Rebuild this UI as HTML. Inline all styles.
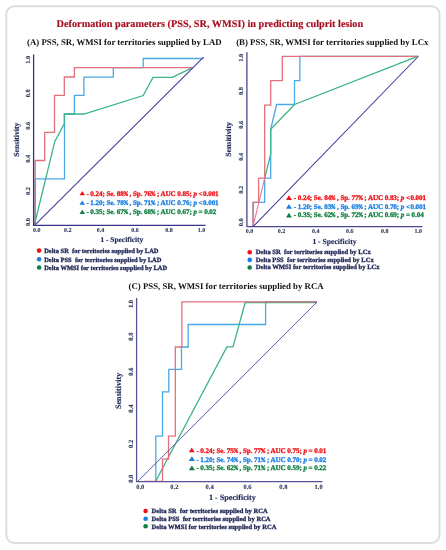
<!DOCTYPE html>
<html><head><meta charset="utf-8"><style>
html,body{margin:0;padding:0;background:#fff;width:446px;height:550px;overflow:hidden}
svg{display:block;will-change:transform}
text{font-family:"Liberation Serif",serif;font-weight:bold;white-space:pre;text-rendering:geometricPrecision}
.tk{font-size:6px;fill:#2e3a5a;stroke:#2e3a5a;stroke-width:0.12px}
.ax{font-size:7.5px;fill:#1f2858;stroke:#1f2858;stroke-width:0.15px}
.lg{font-size:6.56px;fill:#1c2452;stroke:#1c2452;stroke-width:0.3px}
.an{font-size:7.1px;stroke-width:0.3px;letter-spacing:-0.08px}
.pc{font-family:"Liberation Mono",monospace}
.r{fill:#f00f14;stroke:#f00f14}.b{fill:#1a7ee0;stroke:#1a7ee0}.g{fill:#0f7f40;stroke:#0f7f40}
circle,path{stroke-width:0}
.cr{fill:none;stroke:#e2707a;stroke-width:1.3}
.cb{fill:none;stroke:#4aa8e6;stroke-width:1.3}
.cg{fill:none;stroke:#3cb487;stroke-width:1.3}
.dg{fill:none;stroke:#44379a;stroke-width:1.05}
.axl{fill:none;stroke:#3a3088;stroke-width:1.3}
</style></head><body>
<svg width="446" height="550" viewBox="0 0 446 550">
<rect x="6.3" y="6.3" width="433.2" height="536.65" rx="8" ry="8" fill="none" stroke="#dcdcdc" stroke-width="2"/>
<text x="56.6" y="27.4" style="font-size:10.25px;fill:#a50c1e;stroke:#a50c1e;stroke-width:0.15px">Deformation parameters (PSS, SR, WMSI) in predicting culprit lesion</text>

<!-- Panel A -->
<text x="27" y="44.9" style="font-size:8.8px;fill:#111">(A) PSS, SR, WMSI for territories supplied by LAD</text>
<polyline class="cb" points="35.2,225 35.2,178.9 64.5,178.9 64.5,114 74.4,114 74.4,95.4 83.9,95.4 83.9,77.1 113.3,77.1 113.3,67.6 143.2,67.6 143.2,58.5 203.4,58.5"/>
<polyline class="cg" points="34.5,224.5 54.8,141.4 64.3,123.8 64.3,114 84,114 143.2,95.5 153,77.4 172.3,77.4 192.5,67.7"/>
<polyline class="cr" points="35.2,225 35.2,160.5 44.7,160.5 44.7,132.4 54.5,132.4 54.5,95.4 64.3,95.4 64.3,77 74.4,77 74.4,67.7 192.5,67.7"/>
<polyline class="dg" points="35.3,224.7 203.6,57.1"/>
<polyline class="axl" points="33.6,54.4 33.6,225.3 205.5,225.3"/>
<g class="tk" text-anchor="middle">
<text transform="translate(29.6,59.9) rotate(-90)" style="font-size:6.3px">1.0</text>
<text transform="translate(29.6,93.4) rotate(-90)" style="font-size:6.3px">0.8</text>
<text transform="translate(29.6,125.7) rotate(-90)" style="font-size:6.3px">0.6</text>
<text transform="translate(29.6,158.9) rotate(-90)" style="font-size:6.3px">0.4</text>
<text transform="translate(29.6,191.0) rotate(-90)" style="font-size:6.3px">0.2</text>
<text transform="translate(29.6,222.1) rotate(-90)" style="font-size:6.3px">0.0</text>
<text x="36.8" y="232.2">0.0</text><text x="67.8" y="232.2">0.2</text><text x="100.5" y="232.2">0.4</text>
<text x="135.1" y="232.2">0.6</text><text x="169" y="232.2">0.8</text><text x="201.6" y="232.2">1.0</text>
</g>
<text class="ax" x="100.5" y="242.1" style="font-size:7.4px">1 - Specificity</text>
<text class="ax" text-anchor="middle" transform="translate(18.9,139.7) rotate(-90)" style="font-size:7.7px">Sensitivity</text>
<path class="r" d="M79.5,195.3 L82.25,190.9 L85,195.3 Z"/>
<path class="b" d="M79.5,204.8 L82.25,200.5 L85,204.8 Z"/>
<path class="g" d="M79.5,214.1 L82.25,209.7 L85,214.1 Z"/>
<text class="an r" x="86.4" y="195.5">- 0.24; Se. 88<tspan class="pc">%</tspan> , Sp. 76<tspan class="pc">%</tspan> ; AUC 0.85; <tspan font-style="italic">p</tspan> &lt;<tspan dx="0.5">0.001</tspan></text>
<text class="an b" x="86.4" y="205">- 1.20; Se. 78<tspan class="pc">%</tspan> , Sp. 71<tspan class="pc">%</tspan> ; AUC 0.76; <tspan font-style="italic">p</tspan> &lt;<tspan dx="0.5">0.001</tspan></text>
<text class="an g" x="86.4" y="214.1">- 0.35; Se. 67<tspan class="pc">%</tspan> , Sp. 68<tspan class="pc">%</tspan> ; AUC 0.67; <tspan font-style="italic">p</tspan> = 0.02</text>
<circle class="r" cx="39.1" cy="250.6" r="2.3"/><circle class="b" cx="39.1" cy="259.3" r="2.3"/><circle class="g" cx="39.1" cy="267.5" r="2.3"/>
<text class="lg" x="44.2" y="252.7" style="font-size:6.47px">Delta SR  for territories supplied by LAD</text>
<text class="lg" x="44.2" y="261.5" style="font-size:6.47px">Delta PSS  for territories supplied by LAD</text>
<text class="lg" x="44.2" y="269.9" style="font-size:6.47px">Delta WMSI for territories supplied by LAD</text>

<!-- Panel B -->
<text x="236.2" y="44.9" style="font-size:8.8px;fill:#111">(B) PSS, SR, WMSI for territories supplied by LCx</text>
<polyline class="cb" points="253.1,226.2 253.1,202.3 264.7,202.3 264.7,178.1 270.7,178.1 270.7,129.3 276.6,104.5 294.5,104.5 294.5,80.7 299.9,80.7 299.9,56.4 418.2,56.4"/>
<polyline class="cg" points="264.7,178.1 270.7,153.8 270.7,129.3 294.5,104.5 418.2,56.1"/>
<polyline class="cr" points="253.1,226.2 253.1,202.3 258.6,202.3 258.6,178.1 264.7,178.1 264.7,105.1 270.7,105.1 270.7,80.7 282.3,80.7 282.3,56.4 418.2,56.4"/>
<polyline fill="none" stroke="#e87898" stroke-width="1.1" points="253.1,226.2 264.7,178.1"/>
<polyline class="dg" points="253.3,226.4 418.2,56.5"/>
<polyline class="axl" style="stroke:#4e4692" points="246.9,52.3 246.9,226.7 422.5,226.7"/>
<g class="tk" text-anchor="middle">
<text transform="translate(243.2,57.8) rotate(-90)" style="font-size:6.3px">1.0</text>
<text transform="translate(243.2,91.1) rotate(-90)" style="font-size:6.3px">0.8</text>
<text transform="translate(243.2,124.7) rotate(-90)" style="font-size:6.3px">0.6</text>
<text transform="translate(243.2,156.9) rotate(-90)" style="font-size:6.3px">0.4</text>
<text transform="translate(243.2,189.7) rotate(-90)" style="font-size:6.3px">0.2</text>
<text transform="translate(243.2,222.3) rotate(-90)" style="font-size:6.3px">0.0</text>
<text x="249.6" y="233.3">0.0</text><text x="281.6" y="233.3">0.2</text><text x="315.7" y="233.3">0.4</text>
<text x="349.7" y="233.3">0.6</text><text x="384.7" y="233.3">0.8</text><text x="418.3" y="233.3">1.0</text>
</g>
<text class="ax" x="312.4" y="243.8" style="font-size:7.65px">1 - Specificity</text>
<text class="ax" text-anchor="middle" transform="translate(231.2,139.4) rotate(-90)" style="font-size:7.85px">Sensitivity</text>
<path class="r" d="M286,199.9 L288.95,195.2 L291.9,199.9 Z"/>
<path class="b" d="M286,208.8 L288.95,204 L291.9,208.8 Z"/>
<path class="g" d="M286,217.6 L288.95,212.8 L291.9,217.6 Z"/>
<text class="an r" x="293.8" y="199.8">- 0.24; Se. 84<tspan class="pc">%</tspan> , Sp. 77<tspan class="pc">%</tspan> ; AUC 0.83; <tspan font-style="italic">p</tspan> &lt;<tspan dx="0.5">0.001</tspan></text>
<text class="an b" x="293.8" y="208.7">- 1.20; Se. 83<tspan class="pc">%</tspan> , Sp. 69<tspan class="pc">%</tspan> ; AUC 0.78; <tspan font-style="italic">p</tspan> &lt;<tspan dx="0.5">0.001</tspan></text>
<text class="an g" x="293.8" y="217.3">- 0.35; Se. 62<tspan class="pc">%</tspan> , Sp. 72<tspan class="pc">%</tspan> ; AUC 0.69; <tspan font-style="italic">p</tspan> = 0.04</text>
<circle class="r" cx="249.7" cy="252.3" r="2.3"/><circle class="b" cx="249.7" cy="259.9" r="2.3"/><circle class="g" cx="249.7" cy="267.5" r="2.3"/>
<text class="lg" x="255.7" y="254.1" style="font-size:6.6px">Delta SR  for territories supplied by LCx</text>
<text class="lg" x="255.7" y="261.8" style="font-size:6.6px">Delta PSS  for territories supplied by LCx</text>
<text class="lg" x="255.7" y="269.2" style="font-size:6.6px">Delta WMSI for territories supplied by LCx</text>

<!-- Panel C -->
<text x="128.5" y="289.2" style="font-size:8.8px;fill:#111">(C) PSS, SR, WMSI for territories supplied by RCA</text>
<polyline class="cb" points="155.8,481 155.8,436.2 162.5,436.2 162.5,391.9 168.8,391.9 168.8,369.4 181.5,369.4 181.5,347 188.2,347 188.2,324.5 265.6,324.5 265.6,302 317,302"/>
<polyline class="cg" points="155.8,481 226.9,346.9 233,346.9 245.2,302.5 317,302.5"/>
<polyline class="cr" points="144,481.3 162.5,481.3 162.5,459.2 168.5,459.2 168.5,436.2 175.3,436.2 175.3,347 181.9,347 181.9,301.9 317,301.9"/>
<polyline class="dg" style="stroke:#6258ae;stroke-width:1" points="137.2,482 317,302"/>
<polyline class="axl" style="stroke:#5a5298" points="136.6,298.1 136.6,481.7 322.4,481.7"/>
<g class="tk" text-anchor="middle" style="font-size:6.5px">
<text transform="translate(132.9,304) rotate(-90)">1.0</text>
<text transform="translate(132.9,336.6) rotate(-90)">0.8</text>
<text transform="translate(132.9,371.6) rotate(-90)">0.6</text>
<text transform="translate(132.9,408.6) rotate(-90)">0.4</text>
<text transform="translate(132.9,443.9) rotate(-90)">0.2</text>
<text transform="translate(132.9,478.7) rotate(-90)">0.0</text>
<text x="140.3" y="488.5">0.0</text><text x="174.4" y="488.5">0.2</text><text x="209.6" y="488.5">0.4</text>
<text x="247.5" y="488.5">0.6</text><text x="283.4" y="488.5">0.8</text><text x="318.6" y="488.5">1.0</text>
</g>
<text class="ax" x="209" y="500" style="font-size:8.1px">1 - Specificity</text>
<text class="ax" text-anchor="middle" transform="translate(121,390.9) rotate(-90)" style="font-size:8.2px">Sensitivity</text>
<path class="r" d="M188.9,452.2 L191.75,447.6 L194.6,452.2 Z"/>
<path class="b" d="M188.8,461.1 L191.9,456.3 L195,461.1 Z"/>
<path class="g" d="M188.8,470.3 L191.9,465.4 L195,470.3 Z"/>
<text class="an r" x="196.4" y="452.8">- 0.24; Se. 75<tspan class="pc">%</tspan> , Sp. 77<tspan class="pc">%</tspan> ; AUC 0.75; <tspan font-style="italic">p</tspan> = 0.01</text>
<text class="an b" x="196.4" y="461.5">- 1.20; Se. 74<tspan class="pc">%</tspan> , Sp. 71<tspan class="pc">%</tspan> ; AUC 0.70; <tspan font-style="italic">p</tspan> = 0.02</text>
<text class="an g" x="196.4" y="470.2">- 0.35; Se. 62<tspan class="pc">%</tspan> , Sp. 71<tspan class="pc">%</tspan> ; AUC 0.59; <tspan font-style="italic">p</tspan> = 0.22</text>
<circle class="r" cx="145.6" cy="511" r="2.3"/><circle class="b" cx="145.6" cy="518.8" r="2.3"/><circle class="g" cx="145.6" cy="526.2" r="2.3"/>
<text class="lg" x="151.6" y="512.9">Delta SR  for territories supplied by RCA</text>
<text class="lg" x="151.6" y="521.2">Delta PSS  for territories supplied by RCA</text>
<text class="lg" x="151.6" y="529.4">Delta WMSI for territories supplied by RCA</text>
</svg>
</body></html>
